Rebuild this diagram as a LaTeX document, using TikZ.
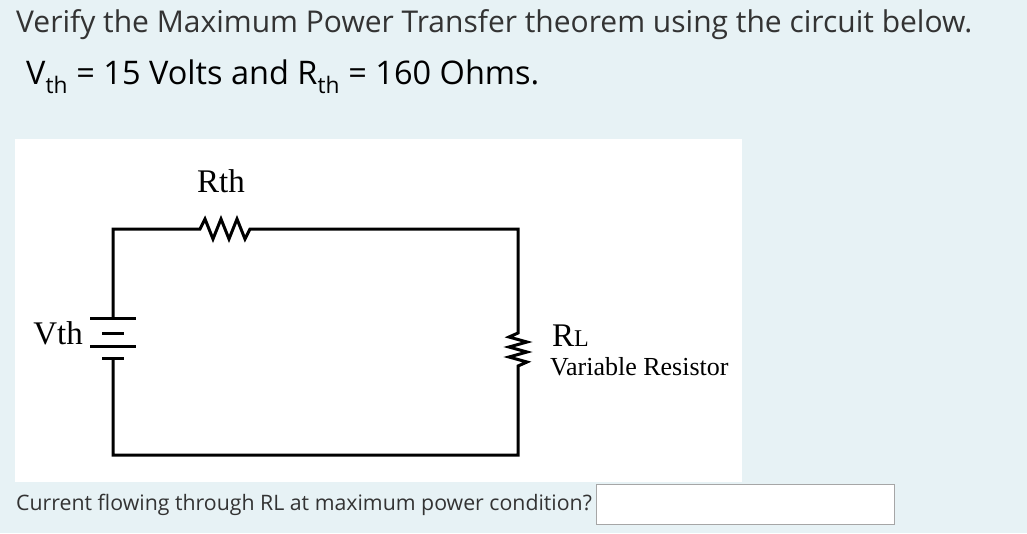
\documentclass[tikz,border=0pt]{standalone}
\usepackage{fontspec}
\setmainfont{Open Sans}
\newfontfamily\tnr{Liberation Serif}
\definecolor{bgc}{HTML}{E7F2F5}
\definecolor{txc}{HTML}{333333}
\begin{document}
\begin{tikzpicture}[x=1pt,y=-1pt,
  wire/.style={line width=3pt,line join=miter},
  plate/.style={line width=3pt},
  lbl/.style={inner sep=0pt,font=\tnr\fontsize{33}{33}\selectfont}]
\fill[bgc] (0,0) rectangle (1027,533);
\fill[white] (15,139) rectangle (742,482);
\node[anchor=west,inner sep=0pt,text=txc,font=\fontsize{30}{30}\selectfont] (t1) at (16,25) {Verify the Maximum Power Transfer theorem using the circuit below.};
\node[anchor=west,inner sep=0pt,text=black,font=\fontsize{32.5}{32}\selectfont] (t2) at (26,77) {V\textsubscript{th} = 15 Volts and R\textsubscript{th} = 160 Ohms.};
% circuit
\coordinate (bt) at (113,318);
\coordinate (tl) at (113,229);
\coordinate (r1a) at (200,229);
\coordinate (r1b) at (258,229);
\coordinate (tr) at (518,229);
\coordinate (r2a) at (518,333);
\coordinate (r2b) at (518,366);
\coordinate (br) at (518,455);
\coordinate (bl) at (113,455);
\coordinate (bb) at (113,358);
\draw[wire] (bt) -- (tl) -- (r1a) -- ++(5,-10) -- ++(8,20) -- ++(8,-20) -- ++(8,20) -- ++(8,-20) -- ++(8,20) -- ++(5,-10) -- (r1b) -- (tr) -- (r2a)
  -- ++(-9,4) -- ++(18,5) -- ++(-18,5) -- ++(18,5) -- ++(-18,5) -- ++(18,5) -- ++(-9,4) -- (r2b) -- (br) -- (bl) -- (bb);
\draw[plate] (90,318) -- (136,318);
\draw[plate] (102,333) -- (124,333);
\draw[plate] (90,346) -- (136,346);
\draw[plate] (102,358) -- (124,358);
\node[lbl] (rth) at (221,181) {Rth};
\node[lbl] (vth) at (58,333) {Vth};
\node[lbl,anchor=west] (rl) at (552,336) {R{\fontsize{24}{24}\selectfont L}};
\node[anchor=west,inner sep=0pt,font=\tnr\fontsize{26}{26}\selectfont] (vr) at (550,367) {Variable Resistor};
\node[anchor=west,inner sep=0pt,text=txc,font=\fontsize{21.3}{21}\selectfont] (q) at (16,505) {Current flowing through RL at maximum power condition?};
\draw[gray!70,fill=white,line width=1pt] (596,484) rectangle (894,524);
\end{tikzpicture}
\end{document}
